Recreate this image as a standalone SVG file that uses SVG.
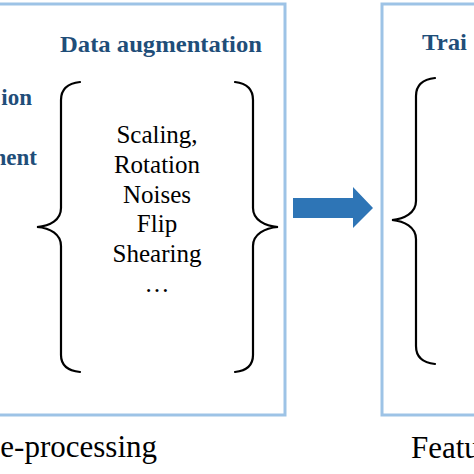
<svg xmlns="http://www.w3.org/2000/svg" width="474" height="474" viewBox="0 0 474 474">
<style>
.box{fill:none;stroke:#9dc3e6;stroke-width:3}
.brace{fill:none;stroke:#000;stroke-width:2.2;stroke-linecap:round}
.hdr{font-family:'Liberation Serif','DejaVu Serif',serif;font-weight:bold;fill:#1f4e79}
.item{font-family:'Liberation Serif','DejaVu Serif',serif;font-size:25px;fill:#000;text-anchor:middle}
.cap{font-family:'Liberation Serif','DejaVu Serif',serif;font-size:31px;fill:#000}
</style>
<rect width="474" height="474" fill="#fff"/>
<g id="preprocessing">
<rect class="box" x="-10" y="4" width="295" height="411"/>
<text class="hdr" x="60" y="52" font-size="23" textLength="202" lengthAdjust="spacingAndGlyphs">Data augmentation</text>
<text class="hdr" x="32" y="105" font-size="23" text-anchor="end">ion</text>
<text class="hdr" x="37" y="165" font-size="23" text-anchor="end">ment</text>
<path class="brace" d="M80,82 Q61,84 61,100 L61,208 C61,220 50,226 37,227 C50,228 61,234 61,246 L61,355 Q61,370 80,372"/>
<path class="brace" d="M235,82 Q253,84 253,100 L253,208 C253,220 265,226 278,227 C265,228 253,234 253,246 L253,355 Q253,370 235,372"/>
<text class="item" x="157" y="143">Scaling,</text>
<text class="item" x="157" y="173">Rotation</text>
<text class="item" x="157" y="203">Noises</text>
<text class="item" x="157" y="232">Flip</text>
<text class="item" x="157" y="262">Shearing</text>
<text class="item" x="157" y="292">…</text>
<text class="cap" x="157" y="457" text-anchor="end">e-processing</text>
</g>
<g id="connectors">
<polygon points="293,198 353,198 353,187 373,208 353,228 353,218 293,218" fill="#2e75b6"/>
</g>
<g id="feature">
<rect class="box" x="382" y="4" width="110" height="411"/>
<text class="hdr" x="422" y="50" font-size="23" textLength="45" lengthAdjust="spacingAndGlyphs">Trai</text>
<path class="brace" d="M435,78 Q416,80 416,96 L416,201 C416,213 404,219 392,220 C404,221 416,227 416,239 L416,346 Q416,362 435,364"/>
<text class="cap" x="411" y="458">Featu</text>
</g>
</svg>
